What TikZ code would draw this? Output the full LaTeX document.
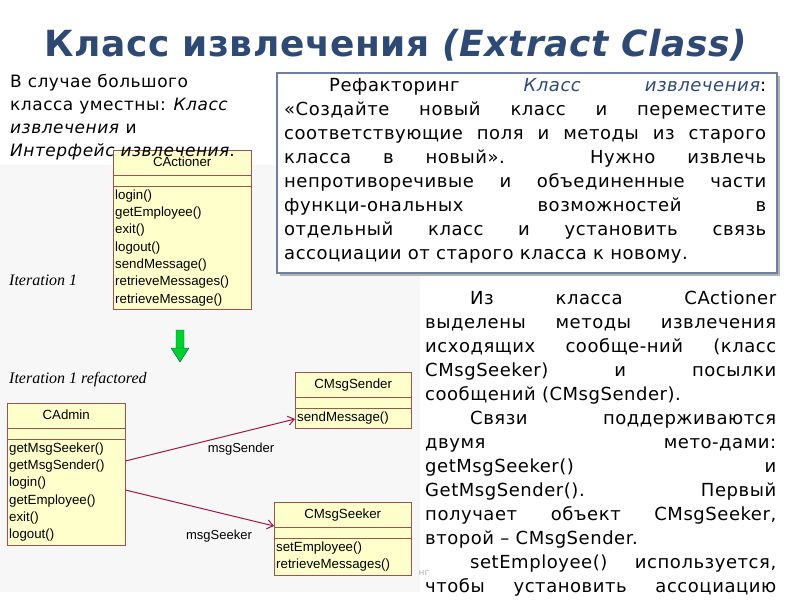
\documentclass[tikz,border=0pt]{standalone}
\usepackage{fontspec}
\setmainfont{DejaVu Sans}[LetterSpace=3]
\newfontfamily\titlefont{DejaVu Sans}[LetterSpace=1.5]
\newfontfamily\umlfont{Liberation Sans}
\newfontfamily\itfont{Liberation Serif}
\usetikzlibrary{shapes.multipart}
\usetikzlibrary{arrows.meta}
\definecolor{titleblue}{HTML}{2E4A74}
\definecolor{umlfill}{HTML}{FFFFCC}
\definecolor{umlline}{HTML}{A0524E}
\definecolor{assoc}{HTML}{A01840}
\newcommand{\cname}[1]{\makebox[\linewidth]{\rule[-5pt]{0pt}{18pt}#1}}
\newcommand{\gap}{\rule{0pt}{3pt}}
\tikzset{
  umlclass/.style={rectangle split, rectangle split parts=3, draw=umlline, fill=umlfill,
    font=\umlfont\fontsize{13.3}{17.3}\selectfont, inner xsep=2pt, inner ysep=3.5pt, anchor=north west},
  body/.style={anchor=north west, font=\fontsize{18}{24}\selectfont, inner sep=0pt, align=justify},
  iter/.style={anchor=west, font=\itfont\itshape\fontsize{16}{18}\selectfont, inner sep=0pt},
  link/.style={assoc, line width=1pt, -{Straight Barb[length=6pt,width=9pt]}},
}
\begin{document}
\begin{tikzpicture}[x=1pt, y=-1pt]
  \useasboundingbox[fill=white] (0,0) rectangle (800,600);
  \fill[black!3] (0,165) rectangle (420,592);
  % title
  \node[titleblue, font=\titlefont\bfseries\fontsize{36}{40}\selectfont] (title) at (396,45)
    {Класс извлечения \textit{(Extract Class)}};
  % UML before
  \node[umlclass, text width=134pt] (actioner) at (113,150)
    {\cname{CActioner}\nodepart{two}\gap\nodepart{three}login()\\getEmployee()\\exit()\\logout()\\sendMessage()\\retrieveMessages()\\retrieveMessage()};
  \node[iter] (it1) at (9,280) {Iteration 1};
  \node[iter] (it2) at (9,380) {Iteration 1 refactored};
  \fill[green!65!teal, draw=teal!70!black] (176,330) rectangle (184,348) -- (189,348) -- (180,362) -- (171,348) -- (176,348) -- cycle;
  % UML after
  \node[umlclass, text width=114pt] (admin) at (7,403)
    {\cname{CAdmin}\nodepart{two}\gap\nodepart{three}getMsgSeeker()\\getMsgSender()\\login()\\getEmployee()\\exit()\\logout()};
  \node[umlclass, text width=112pt] (sender) at (295,372)
    {\cname{CMsgSender}\nodepart{two}\gap\nodepart{three}sendMessage()};
  \node[umlclass, text width=133pt] (seeker) at (274,502)
    {\cname{CMsgSeeker}\nodepart{two}\gap\nodepart{three}setEmployee()\\retrieveMessages()};
  \coordinate (a1) at (admin.east |- 0,461);
  \coordinate (a2) at (admin.east |- 0,490);
  \draw[link] (a1) -- (sender.west |- 0,419);
  \draw[link] (a2) -- (seeker.west |- 0,526);
  \node[font=\umlfont\fontsize{13}{15}\selectfont] (lsend) at (241,449) {msgSender};
  \node[font=\umlfont\fontsize{13}{15}\selectfont] (lseek) at (219,536) {msgSeeker};
  % left text
  \node[body, align=left, font=\fontsize{17}{23}\selectfont] (intro) at (10,74)
    {В случае большого\\класса уместны: \textit{Класс}\\\textit{извлечения} и\\\textit{Интерфейс извлечения}.};
  % right box
  \fill[gray!60] (280,76) rectangle (780,276);
  \node[draw=titleblue!70, line width=1.5pt, fill=white, minimum width=500pt, minimum height=200pt, anchor=north west] (box) at (276,72) {};
  \node[body, text width=482pt] (quote) at (284,78)
    {\hspace*{2.5em}Рефакторинг \textit{\color{titleblue}Класс извлечения}:\linebreak
     «Создайте новый класс и переместите\linebreak
     соответствующие поля и методы из старого\linebreak
     класса в новый». Нужно извлечь\linebreak
     непротиворечивые и объединенные части\linebreak
     функци-ональных возможностей в\linebreak
     отдельный класс и установить связь\linebreak
     ассоциации от старого класса к новому.};
  \node[body, text width=351pt] (notes) at (425,291)
    {\hspace*{2.5em}Из класса CActioner\linebreak
     выделены методы извлечения\linebreak
     исходящих сообще-ний (класс\linebreak
     CMsgSeeker) и посылки\linebreak
     сообщений (CMsgSender).\\
     \hspace*{2.5em}Связи поддерживаются\linebreak
     двумя мето-дами:\linebreak
     getMsgSeeker() и\linebreak
     GetMsgSender(). Первый\linebreak
     получает объект CMsgSeeker,\linebreak
     второй – CMsgSender.\\
     \hspace*{2.5em}setEmployee() используется,\linebreak
     чтобы установить ассоциацию\linebreak};
  \node[gray!60, font=\fontsize{9}{10}\selectfont] (foot) at (424,573) {нг};
\end{tikzpicture}
\end{document}
